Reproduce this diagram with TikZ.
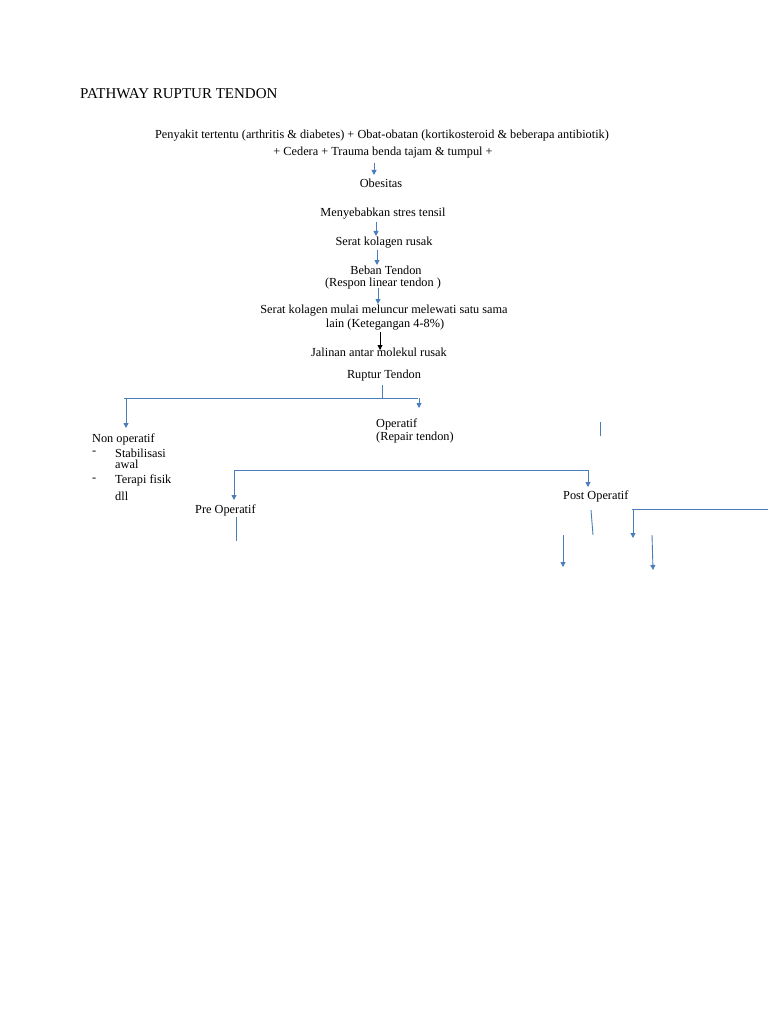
\documentclass[tikz,border=0pt]{standalone}
\usepackage{fontspec}
\setmainfont{Liberation Serif}
\usetikzlibrary{arrows.meta}
\definecolor{ln}{HTML}{4A7EBB}
\begin{document}
\begin{tikzpicture}[x=1pt,y=-1pt,
  t/.style={inner sep=0pt,font=\fontsize{12.3}{14}\selectfont},
  tl/.style={t,anchor=west},
  c/.style={ln,line width=0.9pt},
  a/.style={c,-{Triangle[width=5pt,length=5pt]}}]
\useasboundingbox[fill=white] (0,0) rectangle (768,1024);
\node[tl,font=\fontsize{15}{17}\selectfont] (title) at (80,94) {PATHWAY RUPTUR TENDON};
\node[t] (p1) at (382,136) {Penyakit tertentu (arthritis \&\ diabetes) + Obat-obatan (kortikosteroid \&\ beberapa\ antibiotik)};
\node[t] (p2) at (383,153) {+ Cedera + Trauma benda tajam \&\ tumpul +};
\node[t] (ob) at (381,183) {Obesitas};
\node[t] (ms) at (383,214) {Menyebabkan stres tensil};
\node[t] (sk) at (384,243) {Serat kolagen rusak};
\node[t] (bt) at (386,270) {Beban Tendon};
\node[t] (rl) at (383,284) {(Respon linear tendon )};
\node[t] (sm1) at (384,311) {Serat kolagen mulai meluncur melewati satu sama};
\node[t] (sm2) at (385,325) {lain (Ketegangan 4-8\%)};
\node[t] (jm) at (379,352) {Jalinan antar molekul rusak};
\node[t] (rt) at (384,376) {Ruptur Tendon};
\node[tl] (op) at (376,424) {Operatif};
\node[tl] (rp) at (376,438) {(Repair tendon)};
\node[tl] (no) at (92,439) {Non operatif};
\node[tl] (d1) at (92,453) {-};
\node[tl] (s1) at (115,453) {Stabilisasi};
\node[tl] (s2) at (115,464) {awal};
\node[tl] (d2) at (92,480) {-};
\node[tl] (tf) at (115,480) {Terapi fisik};
\node[tl] (dl) at (115,496) {dll};
\node[tl] (po) at (563,496) {Post Operatif};
\node[tl] (pr) at (195,510) {Pre Operatif};
\draw[a] (374,163) -- (374,175);
\draw[a] (376,222) -- (376,236);
\draw[a] (377,250) -- (377,265);
\draw[a] (378,288) -- (378,304);
\draw[black,line width=0.9pt,-{Triangle[width=5pt,length=5pt]}] (380,332) -- (380,350);
\draw[c] (382,385) -- (382,398);
\draw[c] (124,398) -- (418,398);
\draw[a] (126,398) -- (126,428);
\draw[a] (419,398) -- (419,408);
\draw[c] (600,422) -- (600,436);
\draw[c] (234,470) -- (588,470);
\draw[a] (234,470) -- (234,500);
\draw[a] (588,470) -- (588,487);
\draw[c] (236,517) -- (236,541);
\draw[c] (591,510) -- (593,535);
\draw[c] (632,509) -- (768,509);
\draw[a] (633,509) -- (633,538);
\draw[a] (563,535) -- (563,567);
\draw[a] (652,535) -- (653,570);
\end{tikzpicture}
\end{document}
